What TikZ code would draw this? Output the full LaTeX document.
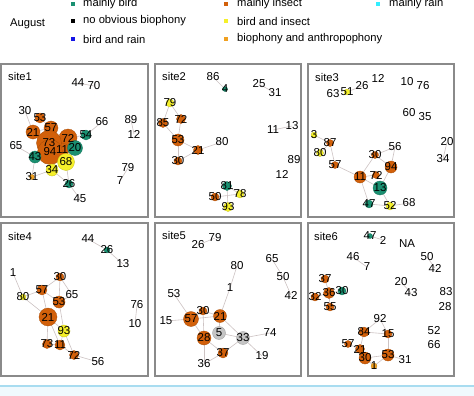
\documentclass[tikz,border=0pt]{standalone}
\usepackage{fontspec}
\setmainfont{Liberation Sans}
\definecolor{cbird}{HTML}{1A9071}
\definecolor{cins}{HTML}{D2600A}
\definecolor{crain}{HTML}{33EEFF}
\definecolor{cyel}{HTML}{F5F02A}
\definecolor{cblue}{HTML}{1414E6}
\definecolor{cbao}{HTML}{F0A020}
\definecolor{cgray}{HTML}{C4C4C4}
\definecolor{cedge}{RGB}{205,195,195}
\definecolor{cframe}{HTML}{8A8A8A}
\definecolor{cline}{HTML}{A8DCF0}
\definecolor{cpale}{HTML}{F0F9FD}
\pgfdeclarelayer{bg}
\pgfdeclarelayer{back}
\pgfdeclarelayer{fg}
\pgfsetlayers{back,bg,main,fg}
\tikzset{
  lab/.style={inner sep=0pt, text=black, font=\fontsize{11.5}{12}\selectfont},
  leg/.style={inner sep=0pt, anchor=west, text=black, font=\fontsize{11.2}{12}\selectfont},
  vx/.style={circle, inner sep=0pt, fill=#1, draw=#1!80!black, line width=0.3pt},
  edge/.style={draw=cedge, line width=0.6pt},
  frame/.style={draw=cframe, line width=1.1pt},
  sq/.style={minimum size=4pt, inner sep=0pt, fill=#1}
}
\newcommand{\cv}[6]{\node[vx=#5, minimum size=#6pt] (#1) at (#2,#3) {};
  \begin{pgfonlayer}{fg}\node[lab] (#1t) at (#1) {#4};\end{pgfonlayer}}
\newcommand{\tv}[4]{\begin{pgfonlayer}{fg}\node[lab] (#1) at (#2,#3) {#4};\end{pgfonlayer}}
\newcommand{\ed}[2]{\begin{pgfonlayer}{bg}\draw[edge] (#1.center) -- (#2.center);\end{pgfonlayer}}
\begin{document}
\begin{tikzpicture}[x=1pt,y=-1pt]
\clip (0,0) rectangle (474,396);
\begin{pgfonlayer}{back}
\fill[white] (0,0) rectangle (474,396);
\end{pgfonlayer}
% legend
\node[leg] (aug) at (10,24) {August};
\node[sq=cbird] (s1) at (73,4) {};  \node[leg] (l1) at (83,4) {mainly bird};
\node[sq=black] (s2) at (73,21) {}; \node[leg] (l2) at (83,21) {no obvious biophony};
\node[sq=cblue] (s3) at (73,39) {}; \node[leg] (l3) at (83,39) {bird and rain};
\node[sq=cins] (s4) at (226,4) {};  \node[leg] (l4) at (237,4) {mainly insect};
\node[sq=cyel] (s5) at (226,21) {}; \node[leg] (l5) at (237,21) {bird and insect};
\node[sq=cbao] (s6) at (226,39) {}; \node[leg] (l6) at (237,39) {biophony and anthropophony};
\node[sq=crain] (s7) at (378,4) {}; \node[leg] (l7) at (389,4) {mainly rain};
% frames
\draw[frame] (1,64) rectangle (148,217);
\draw[frame] (155,64) rectangle (301,217);
\draw[frame] (308,64) rectangle (454,217);
\draw[frame] (1,223) rectangle (148,376);
\draw[frame] (155,223) rectangle (301,376);
\draw[frame] (308,223) rectangle (454,376);
\node[leg] (t1) at (8,76) {site1};
\node[leg] (t2) at (162,76) {site2};
\node[leg] (t3) at (315,77) {site3};
\node[leg] (t4) at (8,236) {site4};
\node[leg] (t5) at (162,235) {site5};
\node[leg] (t6) at (314,236) {site6};
% bottom band
\fill[cpale] (0,387) rectangle (474,396);
\draw[cline, line width=1.5pt] (0,386) -- (474,386);
% ---------- site1
\tv{a44}{78}{83}{44}\tv{a70}{94}{86}{70}\tv{a30}{25}{111}{30}\tv{a66}{102}{122}{66}
\tv{a89}{131}{120}{89}\tv{a12}{134}{134}{12}\tv{a65}{16}{146}{65}\tv{a79}{128}{168}{79}
\tv{a7}{120}{181}{7}\tv{a45}{80}{199}{45}
\cv{a53}{40}{118}{53}{cins}{10}
\cv{a21}{33}{132}{21}{cins}{14}
\cv{a57}{51}{128}{57}{cins}{14}
\cv{a72}{68}{138}{72}{cins}{18}
\cv{a11}{62}{150}{11}{cins}{14}
\cv{a73}{49}{143}{73}{cins}{25}
\cv{a94}{50}{152}{94}{cins}{25}
\cv{a20}{75}{148}{20}{cbird}{15}
\cv{a54}{86}{135}{54}{cbird}{10}
\cv{a43}{35}{157}{43}{cbird}{12}
\cv{a68}{66}{162}{68}{cyel}{17}
\cv{a34}{52}{170}{34}{cyel}{12}
\cv{a26}{69}{184}{26}{cbird}{8}
\cv{a31}{32}{177}{31}{cbao}{5}
\ed{a44}{a70}\ed{a30}{a21}\ed{a65}{a43}\ed{a66}{a54}\ed{a54}{a72}\ed{a89}{a12}
\ed{a79}{a7}\ed{a31}{a34}\ed{a31}{a43}\ed{a34}{a26}\ed{a26}{a45}\ed{a68}{a26}
\ed{a43}{a94}\ed{a21}{a57}\ed{a53}{a57}\ed{a57}{a73}\ed{a72}{a20}\ed{a20}{a68}
\ed{a34}{a68}\ed{a11}{a68}
% ---------- site2
\tv{b86}{213}{77}{86}\tv{b25}{259}{84}{25}\tv{b31}{275}{93}{31}\tv{b80}{222}{142}{80}
\tv{b11}{273}{130}{11}\tv{b13}{292}{126}{13}\tv{b89}{294}{160}{89}\tv{b12}{282}{174}{12}
\cv{b4}{225}{89}{4}{cbird}{5}
\cv{b79}{170}{103}{79}{cyel}{8}
\cv{b72}{181}{119}{72}{cins}{9}
\cv{b85}{163}{123}{85}{cins}{9}
\cv{b53}{178}{140}{53}{cins}{12}
\cv{b21}{198}{150}{21}{cins}{9}
\cv{b30}{178}{161}{30}{cins}{8}
\cv{b81}{227}{186}{81}{cbird}{9}
\cv{b78}{240}{194}{78}{cyel}{8}
\cv{b50}{215}{197}{50}{cins}{8}
\cv{b93}{228}{207}{93}{cyel}{9}
\ed{b86}{b4}\ed{b25}{b31}\ed{b11}{b13}\ed{b79}{b72}\ed{b79}{b85}\ed{b85}{b53}
\ed{b72}{b53}\ed{b53}{b21}\ed{b53}{b30}\ed{b30}{b21}\ed{b21}{b80}\ed{b81}{b93}
\ed{b81}{b78}\ed{b50}{b78}
% ---------- site3
\tv{c12}{378}{78}{12}\tv{c26}{362}{86}{26}\tv{c63}{333}{94}{63}\tv{c10}{407}{82}{10}
\tv{c76}{423}{86}{76}\tv{c60}{409}{113}{60}\tv{c35}{425}{117}{35}\tv{c56}{395}{147}{56}
\tv{c68}{409}{203}{68}\tv{c20}{447}{142}{20}\tv{c34}{443}{159}{34}
\cv{c51}{347}{92}{51}{cyel}{6}
\cv{c3}{314}{135}{3}{cyel}{6}
\cv{c87}{330}{143}{87}{cins}{7}
\cv{c80}{320}{153}{80}{cyel}{7}
\cv{c57}{335}{165}{57}{cins}{7}
\cv{c30}{375}{155}{30}{cins}{7}
\cv{c94}{391}{167}{94}{cins}{12}
\cv{c11}{360}{177}{11}{cins}{12}
\cv{c72}{376}{175}{72}{cins}{7}
\cv{c13}{380}{188}{13}{cbird}{14}
\cv{c47}{369}{204}{47}{cbird}{8}
\cv{c52}{390}{206}{52}{cyel}{8}
\ed{c51}{c26}\ed{c3}{c87}\ed{c87}{c80}\ed{c87}{c57}\ed{c57}{c11}\ed{c30}{c56}
\ed{c30}{c94}\ed{c56}{c94}\ed{c30}{c11}\ed{c94}{c13}\ed{c11}{c72}\ed{c11}{c13}
\ed{c11}{c47}\ed{c47}{c52}\ed{c13}{c52}\ed{c52}{c68}\ed{c20}{c34}
% ---------- site4
\tv{d44}{88}{239}{44}\tv{d13}{123}{264}{13}\tv{d1}{13}{273}{1}\tv{d65}{72}{295}{65}
\tv{d56}{98}{362}{56}\tv{d76}{137}{305}{76}\tv{d10}{135}{324}{10}
\cv{d26}{107}{250}{26}{cbird}{6}
\cv{d30}{60}{277}{30}{cins}{8}
\cv{d57}{42}{290}{57}{cins}{10}
\cv{d80}{23}{297}{80}{cyel}{6}
\cv{d53}{59}{302}{53}{cins}{12}
\cv{d21}{48}{317}{21}{cins}{18}
\cv{d93}{64}{331}{93}{cyel}{12}
\cv{d73}{47}{344}{73}{cins}{9}
\cv{d11}{60}{345}{11}{cins}{10}
\cv{d72}{74}{355}{72}{cins}{9}
\ed{d44}{d26}\ed{d26}{d13}\ed{d1}{d80}\ed{d80}{d57}\ed{d57}{d30}\ed{d30}{d53}
\ed{d30}{d65}\ed{d57}{d53}\ed{d80}{d21}\ed{d57}{d21}\ed{d65}{d53}\ed{d53}{d93}
\ed{d21}{d93}\ed{d21}{d73}\ed{d21}{d11}\ed{d93}{d11}\ed{d93}{d72}\ed{d73}{d11}
\ed{d11}{d72}\ed{d72}{d56}\ed{d76}{d10}
% ---------- site5
\tv{e26}{198}{245}{26}\tv{e79}{215}{238}{79}\tv{e80}{237}{266}{80}\tv{e1}{230}{288}{1}
\tv{e65}{272}{259}{65}\tv{e50}{283}{277}{50}\tv{e42}{291}{295}{42}\tv{e53}{174}{294}{53}
\tv{e15}{166}{321}{15}\tv{e74}{270}{333}{74}\tv{e19}{262}{356}{19}\tv{e36}{204}{364}{36}
\cv{e30}{203}{311}{30}{cins}{8}
\cv{e21}{220}{316}{21}{cins}{13}
\cv{e57}{191}{319}{57}{cins}{15}
\cv{e5}{219}{333}{5}{cgray}{13}
\cv{e28}{204}{338}{28}{cins}{14}
\cv{e33}{243}{338}{33}{cgray}{13}
\cv{e37}{223}{353}{37}{cins}{10}
\ed{e26}{e79}\ed{e80}{e1}\ed{e1}{e21}\ed{e65}{e50}\ed{e50}{e42}\ed{e53}{e57}
\ed{e15}{e57}\ed{e57}{e30}\ed{e30}{e21}\ed{e57}{e21}\ed{e57}{e28}\ed{e30}{e28}
\ed{e21}{e5}\ed{e21}{e33}\ed{e5}{e33}\ed{e28}{e37}\ed{e28}{e36}\ed{e37}{e33}
\ed{e33}{e74}\ed{e33}{e19}\ed{e36}{e37}
% ---------- site6
\tv{f2}{383}{240}{2}\tv{fNA}{407}{244}{NA}\tv{f46}{353}{257}{46}\tv{f7}{367}{267}{7}
\tv{f50}{427}{257}{50}\tv{f42}{435}{268}{42}\tv{f20}{401}{282}{20}\tv{f43}{411}{293}{43}
\tv{f83}{446}{292}{83}\tv{f28}{445}{307}{28}\tv{f92}{380}{319}{92}\tv{f31}{405}{360}{31}
\tv{f52}{434}{331}{52}\tv{f66}{434}{345}{66}
\cv{f47}{370}{236}{47}{cbird}{5}
\cv{f37}{325}{279}{37}{cins}{8}
\cv{f32}{315}{297}{32}{cins}{8}
\cv{f36}{329}{293}{36}{cins}{11}
\cv{f30g}{342}{291}{30}{cbird}{8}
\cv{f55}{330}{307}{55}{cins}{8}
\cv{f84}{364}{332}{84}{cins}{10}
\cv{f15}{388}{334}{15}{cins}{8}
\cv{f57}{348}{344}{57}{cins}{7}
\cv{f21}{360}{349}{21}{cins}{9}
\cv{f53}{388}{355}{53}{cins}{12}
\cv{f30}{365}{358}{30}{cins}{12}
\cv{f1}{374}{366}{1}{cbao}{6}
\ed{f47}{f2}\ed{f46}{f7}\ed{f50}{f42}\ed{f20}{f43}\ed{f37}{f36}\ed{f32}{f36}
\ed{f36}{f30g}\ed{f36}{f55}\ed{f92}{f84}\ed{f92}{f15}\ed{f84}{f15}\ed{f84}{f21}
\ed{f57}{f21}\ed{f21}{f30}\ed{f30}{f1}\ed{f1}{f53}\ed{f53}{f31}\ed{f15}{f53}
\ed{f30}{f53}
\end{tikzpicture}
\end{document}
